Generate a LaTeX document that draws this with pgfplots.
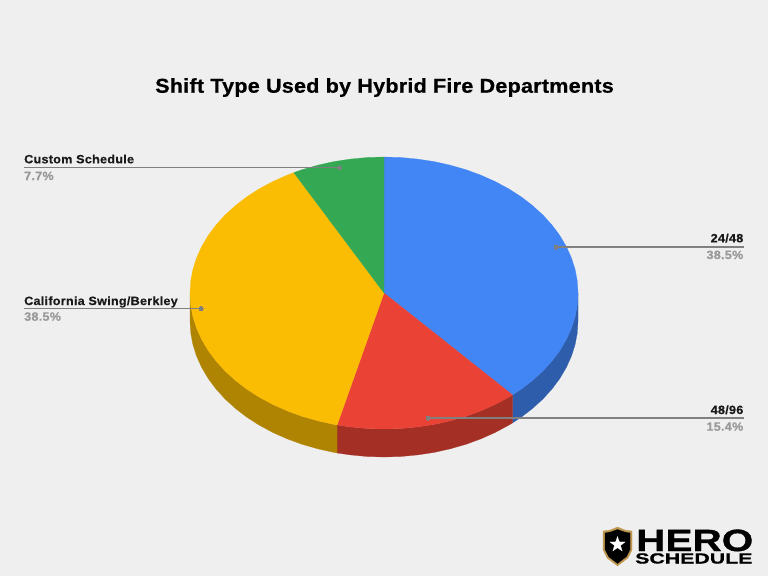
\documentclass[border=0pt]{standalone}
\usepackage{fontspec}
\usepackage{pgfplots}
\pgfplotsset{compat=1.18}
\setmainfont{Liberation Sans}
\newfontfamily\labelfont[FakeStretch=1.05,LetterSpace=2.2,FakeBold=0.4]{Liberation Sans Bold}
\newfontfamily\titlefont[FakeStretch=1.08,LetterSpace=1.1,FakeBold=0.6]{Liberation Sans Bold}
\newfontfamily\herofont[FakeStretch=1.32,FakeBold=1]{Liberation Sans Bold}
\newfontfamily\schedfont[FakeStretch=1.45,FakeBold=1]{Liberation Sans Bold}

\definecolor{bg}{HTML}{EFEFEF}
\definecolor{blue1}{HTML}{4285F4}
\definecolor{red1}{HTML}{EA4335}
\definecolor{yellow1}{HTML}{FBBC04}
\definecolor{green1}{HTML}{34A853}
\definecolor{blue2}{HTML}{2E5DAB}
\definecolor{red2}{HTML}{A42F25}
\definecolor{yellow2}{HTML}{B08403}
\definecolor{leader}{HTML}{808080}
\definecolor{namecol}{HTML}{1A1A1A}
\definecolor{valcol}{HTML}{999999}
\definecolor{gold}{HTML}{BE964F}

\tikzset{
  face/.style={fill=#1,draw=#1,line width=0.2pt,mark=none},
  leaderline/.style={leader,line width=1.2pt,mark=none},
  nm/.style={inner sep=0pt,text=namecol,font=\labelfont\fontsize{12}{14}\selectfont},
  val/.style={inner sep=0pt,text=valcol,font=\labelfont\fontsize{12}{14}\selectfont}
}

\begin{document}
\begin{tikzpicture}
\begin{axis}[
  scale only axis,
  width=768pt,height=576pt,
  xmin=0,xmax=768,ymin=0,ymax=576,
  y dir=reverse,
  axis lines=none,
  clip=true]

% background
\addplot[fill=bg,draw=none,mark=none] coordinates {(0,0)(768,0)(768,576)(0,576)} -- cycle;

% side walls
\addplot[face=blue2] coordinates {
(578,293)(577.3,304.9)(575.1,316.6)(571.4,328.2)(566.3,339.5)(559.8,350.5)(552,361)(542.9,371)(532.6,380.4)(521.2,389.2)(512.5,394.9)
(512.5,422.9)(521.2,417.2)(532.6,408.4)(542.9,399)(552,389)(559.8,378.5)(566.3,367.5)(571.4,356.2)(575.1,344.6)(577.3,332.9)(578,321)
} -- cycle;
\addplot[face=red2] coordinates {
(512.5,394.9)(508.7,397.2)(495.3,404.4)(481,410.8)(466,416.3)(450.3,420.8)(434.2,424.4)(417.7,426.9)(400.9,428.5)(384,429)(367.1,428.5)(350.3,426.9)(337.1,425)
(337.1,453)(350.3,454.9)(367.1,456.5)(384,457)(400.9,456.5)(417.7,454.9)(434.2,452.4)(450.3,448.8)(466,444.3)(481,438.8)(495.3,432.4)(508.7,425.2)(512.5,422.9)
} -- cycle;
\addplot[face=yellow2] coordinates {
(337.1,425)(333.8,424.4)(317.7,420.8)(302,416.3)(287,410.8)(272.7,404.4)(259.3,397.2)(246.8,389.2)(235.4,380.4)(225.1,371)(216,361)(208.2,350.5)(201.7,339.5)(196.6,328.2)(192.9,316.6)(190.7,304.9)(190,293)
(190,321)(190.7,332.9)(192.9,344.6)(196.6,356.2)(201.7,367.5)(208.2,378.5)(216,389)(225.1,399)(235.4,408.4)(246.8,417.2)(259.3,425.2)(272.7,432.4)(287,438.8)(302,444.3)(317.7,448.8)(333.8,452.4)(337.1,453)
} -- cycle;

% top faces
\addplot[face=blue1] coordinates {
(384,293)(384,157)(400.9,157.5)(417.7,159.1)(434.2,161.6)(450.3,165.2)(466,169.7)(481,175.2)(495.3,181.6)(508.7,188.8)(521.2,196.8)(532.6,205.6)(542.9,215)(552,225)(559.8,235.5)(566.3,246.5)(571.4,257.8)(575.1,269.4)(577.3,281.1)(578,293)(577.3,304.9)(575.1,316.6)(571.4,328.2)(566.3,339.5)(559.8,350.5)(552,361)(542.9,371)(532.6,380.4)(521.2,389.2)(512.5,394.9)
} -- cycle;
\addplot[face=red1] coordinates {
(384,293)(512.5,394.9)(508.7,397.2)(495.3,404.4)(481,410.8)(466,416.3)(450.3,420.8)(434.2,424.4)(417.7,426.9)(400.9,428.5)(384,429)(367.1,428.5)(350.3,426.9)(337.1,425)
} -- cycle;
\addplot[face=yellow1] coordinates {
(384,293)(337.1,425)(333.8,424.4)(317.7,420.8)(302,416.3)(287,410.8)(272.7,404.4)(259.3,397.2)(246.8,389.2)(235.4,380.4)(225.1,371)(216,361)(208.2,350.5)(201.7,339.5)(196.6,328.2)(192.9,316.6)(190.7,304.9)(190,293)(190.7,281.1)(192.9,269.4)(196.6,257.8)(201.7,246.5)(208.2,235.5)(216,225)(225.1,215)(235.4,205.6)(246.8,196.8)(259.3,188.8)(272.7,181.6)(287,175.2)(293.8,172.6)
} -- cycle;
\addplot[face=green1] coordinates {
(384,293)(293.8,172.6)(302,169.7)(317.7,165.2)(333.8,161.6)(350.3,159.1)(367.1,157.5)(384,157)
} -- cycle;

% leader lines
\addplot[leaderline] coordinates {(24,167.5)(339.5,167.5)};
\addplot[leaderline] coordinates {(24,308.5)(201,308.5)};
\addplot[leaderline] coordinates {(556,247)(743.5,247)};
\addplot[leaderline] coordinates {(428,418)(743.5,418)};
\addplot[only marks,leader,mark=*,mark size=2pt,mark options={fill=leader,draw=leader,line width=0pt}] coordinates {(339.5,167.5)(201,308.5)(556,247)(428,418)};

% logo
\addplot[face=gold] coordinates {(603,531)(610,530)(617.5,527)(625,530)(632,531)(632,550)(628,558)(617.5,566)(607,558)(603,550)} -- cycle;
\addplot[face=black] coordinates {(605,533)(610.5,532)(617.5,529.5)(624.5,532)(630,533)(630,549.5)(626.5,556.5)(617.5,563.5)(608.5,556.5)(605,549.5)} -- cycle;
\addplot[face=white] coordinates {(617.5,536.5)(619.4,541.9)(625.1,542)(620.5,545.5)(622.2,551)(617.5,547.7)(612.8,551)(614.5,545.5)(609.9,542)(615.6,541.9)} -- cycle;

% text
\node[anchor=base west,inner sep=0pt,text=black,font=\titlefont\fontsize{20}{24}\selectfont] at (axis cs:155,92.7) {Shift Type Used by Hybrid Fire Departments};
\node[nm,anchor=base west] at (axis cs:24,163.3) {Custom Schedule};
\node[val,anchor=base west] at (axis cs:24,180) {7.7\%};
\node[nm,anchor=base west] at (axis cs:24,305) {California Swing/Berkley};
\node[val,anchor=base west] at (axis cs:24,320.7) {38.5\%};
\node[nm,anchor=base east] at (axis cs:743.5,242.3) {24/48};
\node[val,anchor=base east] at (axis cs:743.5,259) {38.5\%};
\node[nm,anchor=base east] at (axis cs:743.5,414) {48/96};
\node[val,anchor=base east] at (axis cs:743.5,430.7) {15.4\%};
\node[anchor=base west,inner sep=0pt,text=black,font=\herofont\fontsize{30.7}{32}\selectfont] at (axis cs:636,551) {HERO};
\node[anchor=base west,inner sep=0pt,text=black,font=\schedfont\fontsize{14.7}{16}\selectfont] at (axis cs:635,563.5) {SCHEDULE};
\end{axis}
\end{tikzpicture}
\end{document}
